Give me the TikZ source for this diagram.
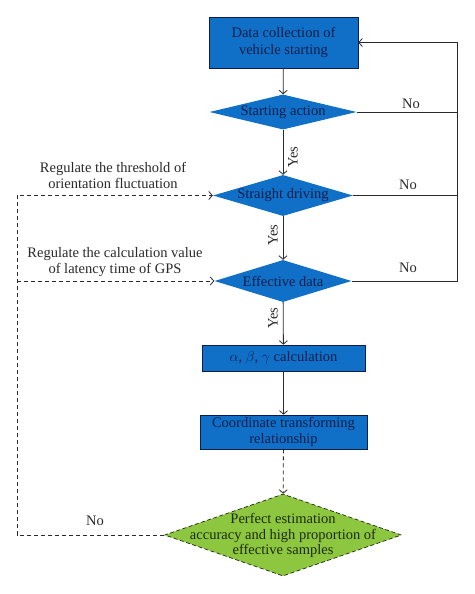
\documentclass[tikz,border=0pt]{standalone}
\usepackage{fontspec}
\setmainfont{Liberation Serif}
\usetikzlibrary{shapes.geometric,arrows.meta}
\definecolor{boxblue}{HTML}{1070C8}
\definecolor{navy}{HTML}{0E1E4A}
\definecolor{leaf}{HTML}{8DC63F}
\definecolor{darkleaf}{HTML}{1C2A10}
\definecolor{linegray}{HTML}{2A2A2A}
\begin{document}
\begin{tikzpicture}[x=1pt,y=1pt,
  font=\fontsize{14.5}{15.5}\selectfont,
  bluebox/.style={draw=navy, line width=0.6pt, fill=boxblue, text=navy, align=center, inner sep=0pt},
  bluedia/.style={diamond, draw=none, fill=boxblue, inner sep=0pt},
  greendia/.style={diamond, draw=darkleaf, line width=0.7pt, dash pattern=on 4pt off 2.5pt, fill=leaf, inner sep=0pt},
  diatext/.style={text=navy},
  conn/.style={draw=linegray, line width=0.8pt},
  arr/.style={conn, -{Straight Barb[length=3.5pt,width=8pt]}},
  dashconn/.style={conn, dash pattern=on 4pt off 3pt},
  dasharr/.style={dashconn, -{Straight Barb[length=3.5pt,width=8pt]}},
  lbl/.style={text=linegray, align=center}
]
\useasboundingbox (0,0) rectangle (474,-594);
\fill[white] (0,0) rectangle (474,-594);

% boxes and diamonds
\node[bluebox, minimum width=149pt, minimum height=51pt, font=\fontsize{14.5}{17.5}\selectfont] (b1) at (283.5,-42.5) {Data collection of\\vehicle starting};
\node[bluedia, minimum width=147pt, minimum height=35pt] (d1) at (283,-112) {};
\node[diatext] (t1) at (d1) {Starting action};
\node[bluedia, minimum width=140pt, minimum height=41pt] (d2) at (283,-195.5) {};
\node[diatext] (t2) at (d2) {Straight driving};
\node[bluedia, minimum width=137pt, minimum height=42pt] (d3) at (283,-281) {};
\node[diatext] (t3) at (d3) {Effective data};
\node[bluebox, minimum width=163pt, minimum height=26pt] (b2) at (283.5,-358) {$\alpha$, $\beta$, $\gamma$ calculation};
\node[bluebox, minimum width=167pt, minimum height=34pt] (b3) at (283.5,-432) {Coordinate transforming\\relationship};
\node[greendia, minimum width=237pt, minimum height=82pt] (d4) at (283,-535) {};
\node[text=darkleaf, align=center] (t4) at (283,-535.5) {Perfect estimation\\accuracy and high proportion of\\effective samples};

% main flow
\draw[arr] (b1) -- (d1);
\draw[arr] (d1) -- (d2);
\draw[arr] (d2) -- (d3);
\draw[arr] (d3) -- (b2);
\draw[arr] (b2) -- (b3);
\draw[dasharr] (b3) -- (d4);

% Yes labels
\node[lbl, rotate=90] (y1) at (293,-157) {Yes};
\node[lbl, rotate=90] (y2) at (273,-235) {Yes};
\node[lbl, rotate=90] (y3) at (273,-318) {Yes};

% right feedback
\coordinate (r0) at (457,-42.5);
\draw[conn] (d1.east) -- (d1.east -| r0);
\draw[conn] (d2.east) -- (d2.east -| r0);
\draw[arr] (d3.east) -- (d3.east -| r0) -- (r0) -- (b1.east);
\node[lbl] (n1) at (411,-104) {No};
\node[lbl] (n2) at (408,-185) {No};
\node[lbl] (n3) at (408,-268) {No};

% left dashed feedback
\coordinate (l0) at (17,-535);
\draw[dasharr] (d4.west) -- (l0) -- (l0 |- d2.west) -- (d2.west);
\draw[dasharr] (l0 |- d3.west) -- (d3.west);
\node[lbl] (n4) at (95,-521) {No};
\node[lbl] (g1) at (113,-175.5) {Regulate the threshold of\\orientation fluctuation};
\node[lbl] (g2) at (115,-262) {Regulate the calculation value\\of latency time of GPS};
\end{tikzpicture}
\end{document}
